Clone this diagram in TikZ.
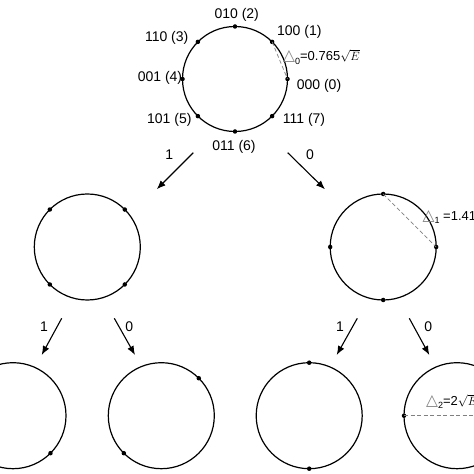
\documentclass[tikz,border=0pt]{standalone}
\usepackage{fontspec}
\setmainfont{Liberation Sans}
\newfontfamily\symfont{DejaVu Sans}
\usetikzlibrary{arrows.meta}
\newcommand{\tri}{\textcolor{gray}{\symfont\fontsize{15.5}{16}\selectfont △}}
\newcommand{\sub}[1]{\raisebox{-3.5pt}{\fontsize{9}{10}\selectfont #1}}
\begin{document}
\begin{tikzpicture}[x=1pt,y=1pt,
  ring/.style={circle, draw, line width=1.2pt, minimum size=106pt, inner sep=0pt, outer sep=0pt},
  dotpt/.style={fill, circle, inner sep=0pt, minimum size=4.5pt},
  lbl/.style={font=\fontsize{14}{16}\selectfont, inner sep=0pt},
  arr/.style={line width=1.1pt, -{Latex[length=9pt,width=7pt]}},
  chord/.style={gray, line width=0.7pt, dash pattern=on 4pt off 2.5pt},
  dlbl/.style={font=\fontsize{13}{15}\selectfont, inner sep=0pt, anchor=west}]
\useasboundingbox (0,0) rectangle (474,474);

% circles
\node[ring, minimum size=105pt] (T) at (235,395) {};
\node[ring] (L) at (87.3,227) {};
\node[ring] (R) at (383.2,227) {};
\node[ring] (B1) at (13,58.3) {};
\node[ring] (B2) at (161.3,58.3) {};
\node[ring] (B3) at (309.2,58.3) {};
\node[ring] (B4) at (457,58.3) {};

% dots
\foreach \a in {0,45,...,315} \node[dotpt] at (T.\a) {};
\foreach \a in {45,135,225,315} \node[dotpt] at (L.\a) {};
\foreach \a in {0,90,180,270} \node[dotpt] at (R.\a) {};
\foreach \a in {135,315} \node[dotpt] at (B1.\a) {};
\foreach \a in {45,225} \node[dotpt] at (B2.\a) {};
\foreach \a in {90,270} \node[dotpt] at (B3.\a) {};
\foreach \a in {0,180} \node[dotpt] at (B4.\a) {};

% chords
\draw[chord] (T.45) -- (T.0);
\draw[chord] (R.90) -- (R.0);
\draw[chord] (B4.180) -- (B4.0);

% top labels
\node[lbl] (l2) at (236.7,459) {010 (2)};
\node[lbl] (l1) at (299.3,441.7) {100 (1)};
\node[lbl] (l3) at (166.7,435.7) {110 (3)};
\node[lbl] (l4) at (160,396) {001 (4)};
\node[lbl] (l0) at (319,388.3) {000 (0)};
\node[lbl] (l5) at (169.3,354) {101 (5)};
\node[lbl] (l7) at (304,354) {111 (7)};
\node[lbl] (l6) at (234,327.3) {011 (6)};

% delta labels
\node[dlbl] (d0) at (283,417) {\tri\sub{0}=0.765$\sqrt{E}$};
\node[dlbl] (d1) at (422.5,257.3) {\tri\sub{1} =1.414$\sqrt{E}$};
\node[dlbl] (d2) at (426,72.3) {\tri\sub{2}=2$\sqrt{E}$};

% arrows
\coordinate (a1s) at (193.3,321.3); \coordinate (a1e) at (156.7,284.7);
\coordinate (a2s) at (287.7,321.3); \coordinate (a2e) at (325,284.7);
\coordinate (a3s) at (61.7,155.7);  \coordinate (a3e) at (41.7,119);
\coordinate (a4s) at (114.3,155.7); \coordinate (a4e) at (135,119);
\coordinate (a5s) at (357.3,155.7); \coordinate (a5e) at (336.7,119);
\coordinate (a6s) at (409.3,155.7); \coordinate (a6e) at (429.3,119);
\draw[arr] (a1s) -- (a1e);
\draw[arr] (a2s) -- (a2e);
\draw[arr] (a3s) -- (a3e);
\draw[arr] (a4s) -- (a4e);
\draw[arr] (a5s) -- (a5e);
\draw[arr] (a6s) -- (a6e);

% arrow labels
\node[lbl] (n1) at (169.3,319) {1};
\node[lbl] (n2) at (310,319) {0};
\node[lbl] (n3) at (44,147.3) {1};
\node[lbl] (n4) at (129.3,147.3) {0};
\node[lbl] (n5) at (340,147.3) {1};
\node[lbl] (n6) at (428.3,147.3) {0};
\end{tikzpicture}
\end{document}
